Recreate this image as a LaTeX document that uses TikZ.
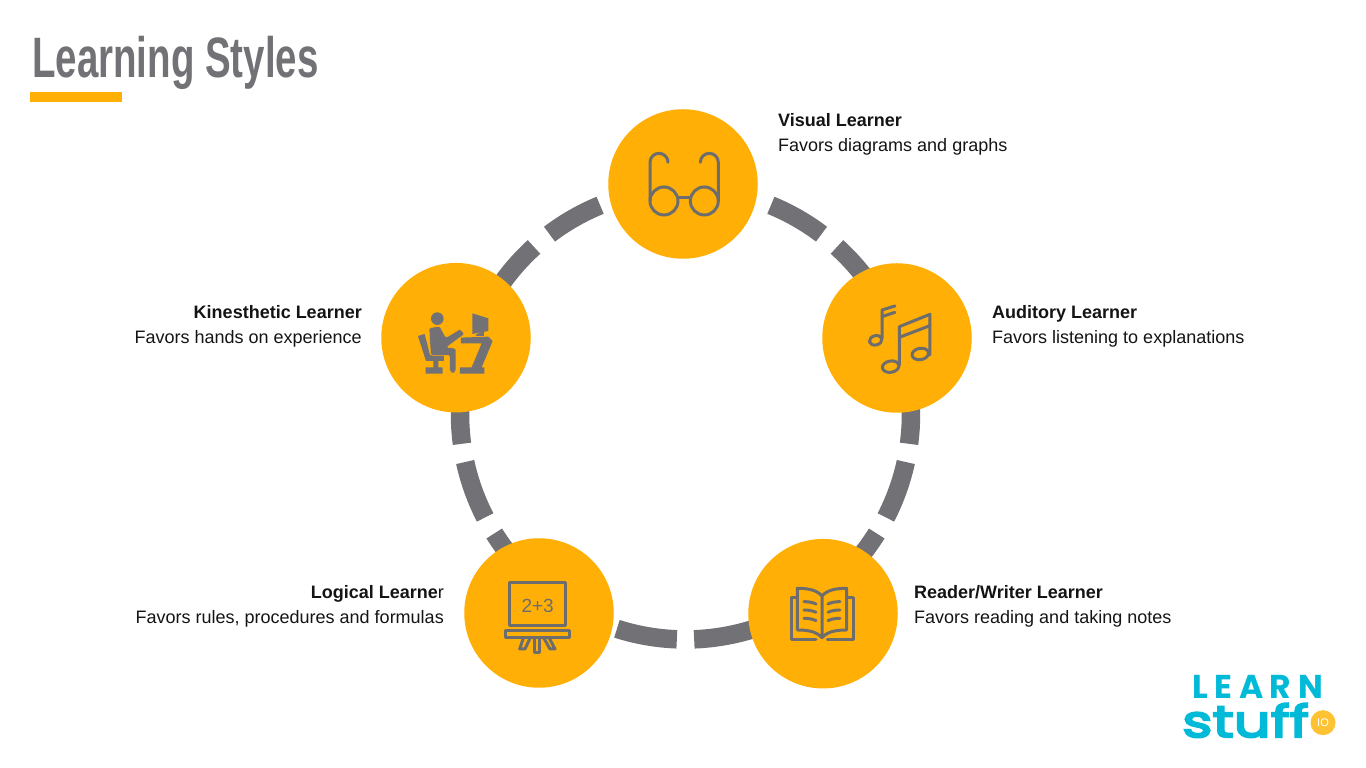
\documentclass[tikz,border=0pt]{standalone}
\usepackage{fontspec}
\usetikzlibrary{positioning,calc}
\setmainfont{Liberation Sans}
\newfontfamily\titlefont[FakeStretch=0.675]{Liberation Sans}
\newfontfamily\logofont[LetterSpace=20]{Poppins}
\newfontfamily\stufffont[FakeStretch=1.32,FakeBold=5]{Poppins}
\definecolor{hubfill}{HTML}{FFAF05}
\definecolor{ringgray}{HTML}{727176}
\definecolor{icongray}{HTML}{6E6D6E}
\definecolor{logocyan}{HTML}{00BAD8}
\definecolor{logogold}{HTML}{FFC233}
\definecolor{labelink}{HTML}{141414}
\tikzset{
  hub/.style={circle, fill=hubfill, minimum size=149.5pt, inner sep=0pt},
  ringseg/.style={draw=ringgray, line width=18.5pt},
  learner/.style={font=\fontsize{18}{25}\selectfont, text=labelink, inner sep=0pt, anchor=west, align=left},
  learnerleft/.style={learner, anchor=east, align=right},
  iconarea/.style 2 args={shift={(#1pt,#2pt)}, x=0.3333pt, y=-0.3333pt},
  iconline/.style={draw=icongray, line width=3pt, line cap=round, line join=round}
}

\begin{document}
\begin{tikzpicture}[x=1pt, y=1pt]
  \useasboundingbox (0,0) rectangle (1366,768);
  % Title
  \node[font=\titlefont\bfseries\fontsize{57}{60}\selectfont, text=ringgray, inner sep=0pt, anchor=base west] (title) at (32,690) {Learning Styles};
  \fill[hubfill] (30,666) rectangle (122,676);

  % Ring, broken into pieces
  \coordinate (ringc) at (685.5,354);
  \foreach \a/\b in {67.75/52.9, 47.8/35, 112.25/127.1, 132.2/145, 175/187.6, 192.3/207.3, 212/225, 252.3/267.8, 272.2/295, 5/-7.6, -12.3/-27.3, -32/-45} {
    \draw[ringseg] (ringc) ++(\a:225.5) arc (\a:\b:225.5);
  }

  % Circles
  \node[hub] (visual) at (683,584) {};
  \node[hub] (kinesthetic) at (456,430.3) {};
  \node[hub] (auditory) at (897,430) {};
  \node[hub] (logical) at (539,155) {};
  \node[hub] (reader) at (823,154.3) {};

  % Labels
  \node[learner] (visualtext) at (778,634) {\textbf{Visual Learner}\\Favors diagrams and graphs};
  \node[learner] (auditorytext) at (992,442) {\textbf{Auditory Learner}\\Favors listening to explanations};
  \node[learner] (readertext) at (914,162) {\textbf{Reader/Writer Learner}\\Favors reading and taking notes};
  \node[learnerleft] (kinesthetictext) at (362,442) {\textbf{Kinesthetic Learner}\\Favors hands on experience};
  \node[learnerleft] (logicaltext) at (444,162) {\textbf{Logical Learne}r\\Favors rules, procedures and formulas};

  % Glasses
  \begin{scope}[iconarea={600}{668}]
    \draw[iconline] (192,303) circle [radius=42];
    \draw[iconline] (313,303) circle [radius=42];
    \draw[iconline] (234,293) -- (271,293);
    \draw[iconline] (150,303) -- (150,187) arc (180:360:27);
    \draw[iconline] (355,303) -- (355,187) arc (0:-180:27);
  \end{scope}

  % Person at a desk
  \begin{scope}[iconarea={370}{508}]
    \fill[ringgray] (307,160) -- (355,175) -- (355,213) -- (307,222) -- cycle;
    \fill[ringgray] (318,224) -- (342,212) -- (342,228) -- (318,228) -- cycle;
    \fill[ringgray] (273,233) -- (355,230) -- (368,243) -- (335,322) -- (343,322) -- (343,341) -- (270,341) -- (270,322) -- (305,322) -- (335,250) -- (273,250) -- cycle;
    \fill[ringgray] (144,228) -- (164,222) -- (180,285) -- (222,285) -- (222,303) -- (205,303) -- (205,322) -- (218,322) -- (218,341) -- (167,341) -- (167,322) -- (190,322) -- (190,303) -- (168,303) -- cycle;
    \fill[ringgray] (202,176) circle [radius=19];
    \filldraw[fill=ringgray, draw=hubfill, line width=0.5pt, rounded corners=1.5pt] (177,204) -- (209,198) -- (228,233) -- (270,207) -- (284,222) -- (230,262) -- (258,265) -- (258,333) -- (248,342) -- (239,333) -- (239,286) -- (182,286) -- cycle;
  \end{scope}

  % Notes
  \begin{scope}[iconarea={815}{508}]
    \draw[iconline, rotate around={15:(182,241)}] (182,241) ellipse [x radius=19, y radius=14];
    \draw[iconline] (201,235) -- (201,150) -- (240,138);
    \draw[iconline] (201,170) -- (240,157);
    \draw[iconline, rotate around={10:(227,320)}] (227,320) ellipse [x radius=25, y radius=17];
    \draw[iconline, rotate around={10:(316,282)}] (316,282) ellipse [x radius=25, y radius=17];
    \draw[iconline] (253,315) -- (253,200) -- (345,163) -- (345,285);
    \draw[iconline] (253,232) -- (345,197);
  \end{scope}

  % Blackboard
  \begin{scope}[iconarea={460}{233}]
    \draw[iconline] (147,144) rectangle (317,271);
    \draw[iconline] (135,287) rectangle (330,308);
    \draw[iconline] (224,310) -- (224,352) -- (238,352) -- (238,310);
    \draw[iconline] (190,310) -- (179,342) -- (195,342) -- (210,310);
    \draw[iconline] (252,310) -- (270,342) -- (285,342) -- (268,310);
    \node[font=\fontsize{19}{19}\selectfont, text=icongray, inner sep=0pt] (sum) at (233,212) {2+3};
  \end{scope}

  % Book
  \begin{scope}[iconarea={745}{233}]
    \draw[iconline] (155,187) -- (138,187) -- (138,315) -- (213,315);
    \draw[iconline] (247,315) -- (325,315) -- (325,187) -- (305,187);
    \draw[iconline] (231,183) .. controls (215,165) and (190,160) .. (157,160) -- (157,285) .. controls (190,285) and (215,290) .. (231,308);
    \draw[iconline] (231,183) .. controls (247,165) and (272,160) .. (305,160) -- (305,285) .. controls (272,285) and (247,290) .. (231,308) -- cycle;
    \foreach \y in {200,225,250} {
      \draw[iconline] (177,\y) .. controls (190,\y) and (203,\y+2) .. (213,\y+7);
      \draw[iconline] (285,\y) .. controls (272,\y) and (259,\y+2) .. (249,\y+7);
    }
  \end{scope}

  % Logo
  \node[font=\logofont\bfseries\fontsize{33}{33}\selectfont, text=logocyan, inner sep=0pt, anchor=base west] (learn) at (1192,69) {LEARN};
  \node[font=\stufffont\fontsize{44}{44}\selectfont, text=logocyan, inner sep=0pt, anchor=base west] (stuff) at (1182,31) {stuff};
  \node[circle, fill=logogold, minimum size=25pt, inner sep=0pt, text=white, font=\fontsize{11}{11}\selectfont] (io) at (1323,45.3) {IO};
\end{tikzpicture}
\end{document}
